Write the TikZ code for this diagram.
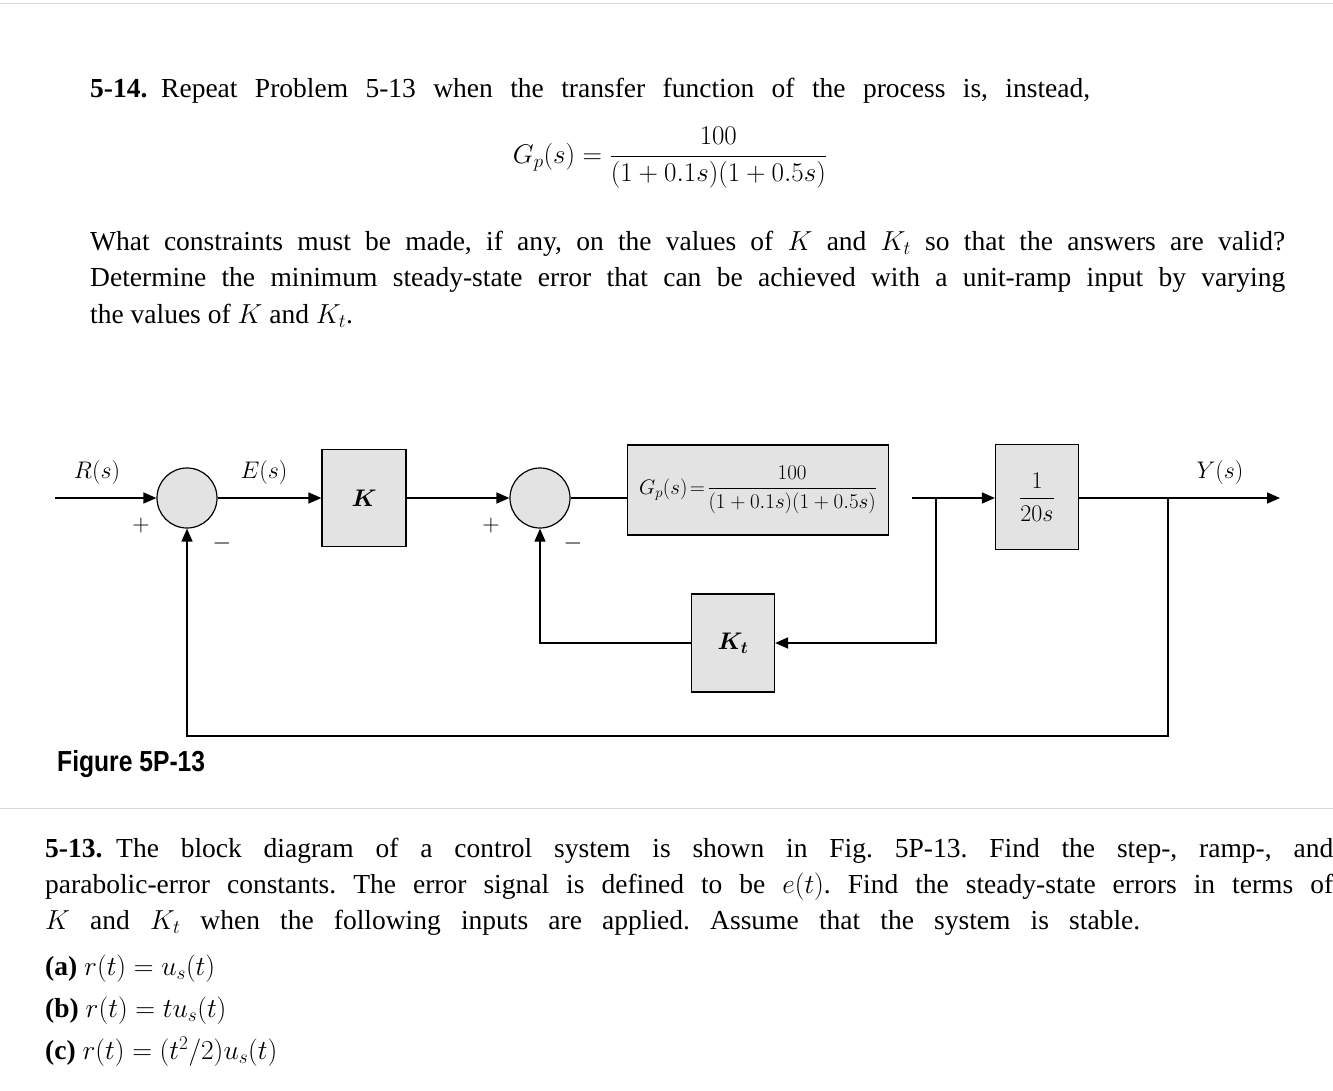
\RequirePackage{fix-cm}
\documentclass[tikz,border=0pt]{standalone}
\usepackage{amsmath,amssymb}
\usepackage{fontspec}
\setmainfont{Liberation Serif}
\newfontfamily\figfont{Liberation Sans}[FakeStretch=0.85]
\usetikzlibrary{arrows.meta}
\frenchspacing
\begin{document}
\begin{tikzpicture}[x=1pt,y=-1pt,
  blk/.style={draw, line width=1.2pt, fill=gray!22, inner sep=0pt},
  sum/.style={draw, circle, line width=1.2pt, fill=gray!22, minimum size=60pt, inner sep=0pt},
  sig/.style={line width=1.6pt},
  arr/.style={sig, -{Triangle[length=13pt,width=11pt]}},
  lbl/.style={font=\fontsize{24}{28}\selectfont},
  txt/.style={anchor=base west, inner sep=0pt, font=\fontsize{27.5}{30}\selectfont}]
\useasboundingbox (0,0) rectangle (1333,1090);
\draw[gray!30, line width=1pt] (0,3) -- (1333,3);
\draw[gray!30, line width=1pt] (0,808) -- (1333,808);
% Problem 5-14
\node[txt] (t1) at (90,97) {\makebox[1000pt][s]{\textbf{5-14.}\enspace Repeat Problem 5-13 when the transfer function of the process is, instead,}};
\node[inner sep=0pt, font=\fontsize{27}{30}\selectfont] (eq1) at (670,158) {$G_p(s)=\dfrac{100}{(1+0.1s)(1+0.5s)}$};
\node[txt] (t2) at (90,250) {\makebox[1195pt][s]{What constraints must be made, if any, on the values of $K$ and $K_t$ so that the answers are valid?}};
\node[txt] (t3) at (90,286) {\makebox[1195pt][s]{Determine the minimum steady-state error that can be achieved with a unit-ramp input by varying}};
\node[txt] (t4) at (90,323) {the values of $K$ and $K_t$.};
% Diagram
\node[sum] (s1) at (187,498) {};
\node[sum] (s2) at (540,498) {};
\node[blk, minimum width=84pt, minimum height=97pt] (K) at (364,498) {\fontsize{24}{28}\selectfont$\boldsymbol{K}$};
\node[blk, minimum width=261pt, minimum height=90pt] (G) at (758,490) {\fontsize{21}{24}\selectfont$G_p(s)\!=\!\dfrac{100}{(1+0.1s)(1+0.5s)}$};
\node[blk, minimum width=83pt, minimum height=105pt] (I) at (1037,497) {\fontsize{24}{28}\selectfont$\dfrac{1}{20s}$};
\node[blk, minimum width=83pt, minimum height=98pt] (Kt) at (733,643) {\fontsize{24}{28}\selectfont$\boldsymbol{K_t}$};
\coordinate (in) at (55,498);
\coordinate (gout) at (912,498);
\coordinate (b1) at (936,498);
\coordinate (b2) at (1168,498);
\coordinate (out) at (1280,498);
\draw[arr] (in) -- (s1.west);
\draw[arr] (s1.east) -- (K.west);
\draw[arr] (K.east) -- (s2.west);
\draw[sig] (s2.east) -- (G.west |- s2.east);
\draw[arr] (gout) -- (I.west |- gout);
\draw[arr] (I.east |- out) -- (out);
\draw[arr] (b1) |- (Kt.east);
\draw[arr] (Kt.west) -| (s2.south);
\draw[arr] (b2) |- (187,736) -- (s1.south);
\node[lbl] (R) at (97,472) {$R(s)$};
\node[lbl] (E) at (264,472) {$E(s)$};
\node[lbl] (Y) at (1220,472) {$Y(s)$};
\node[lbl] (p1) at (141,525) {$+$};
\node[lbl] (m1) at (222,543) {$-$};
\node[lbl] (p2) at (491,525) {$+$};
\node[lbl] (m2) at (573,543) {$-$};
\node[anchor=west, inner sep=0pt, font=\figfont\bfseries\fontsize{29}{30}\selectfont] (fig) at (57,764) {Figure 5P-13};
% Problem 5-13
\node[txt] (u1) at (45,857) {\makebox[1288pt][s]{\textbf{5-13.}\enspace The block diagram of a control system is shown in Fig. 5P-13. Find the step-, ramp-, and}};
\node[txt] (u2) at (45,893) {\makebox[1288pt][s]{parabolic-error constants. The error signal is defined to be $e(t)$. Find the steady-state errors in terms of}};
\node[txt] (u3) at (45,929) {\makebox[1095pt][s]{$K$ and $K_t$ when the following inputs are applied. Assume that the system is stable.}};
\node[txt] (u4) at (45,975) {\textbf{(a)} $r(t)=u_s(t)$};
\node[txt] (u5) at (45,1017) {\textbf{(b)} $r(t)=tu_s(t)$};
\node[txt] (u6) at (45,1059) {\textbf{(c)} $r(t)=(t^2/2)u_s(t)$};
\end{tikzpicture}
\end{document}
